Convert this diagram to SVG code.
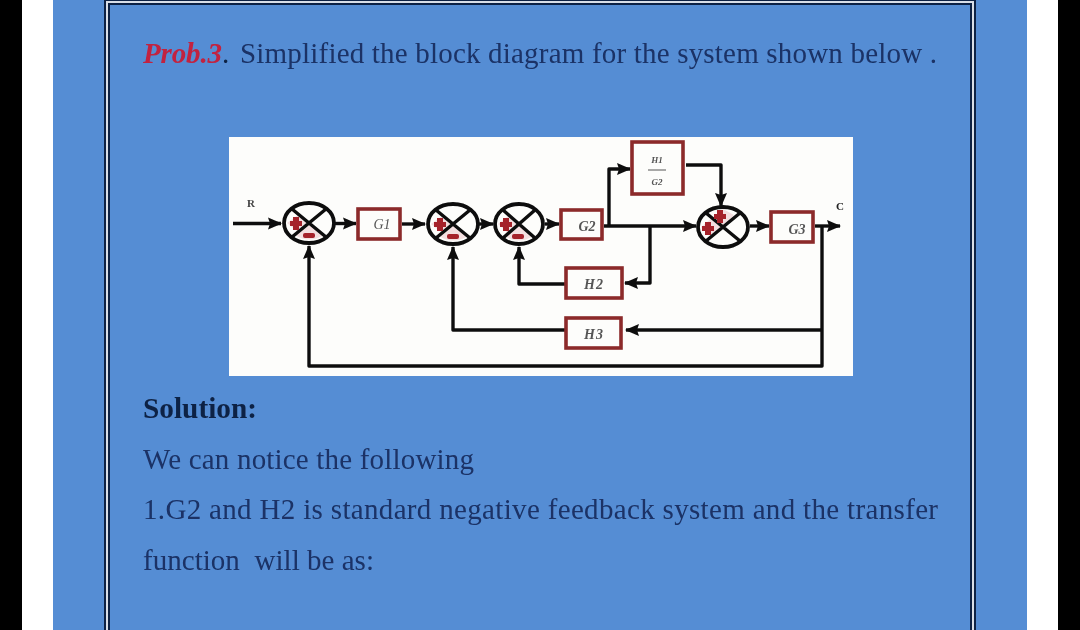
<svg xmlns="http://www.w3.org/2000/svg" width="1080" height="630" viewBox="0 0 1080 630">
<defs>
<marker id="a" markerUnits="userSpaceOnUse" markerWidth="15" markerHeight="14" refX="13" refY="7" orient="auto"><path d="M0 1L14 7L0 13L2 7Z" fill="#0c0c0c"/></marker>
<filter id="b" x="-5%" y="-5%" width="110%" height="110%"><feGaussianBlur stdDeviation="0.7"/></filter>
</defs>
<style>
.t{font-family:"Liberation Serif",serif;font-size:29px;fill:#1a3266}
.b{fill:#fdfdfb;stroke:#8c2a2c;stroke-width:3.6}
.c{fill:none;stroke:#0c0c0c;stroke-width:3.4;stroke-linejoin:round}
.s{fill:#fdfdfb;stroke:#0c0c0c;stroke-width:3.8}
.x{stroke:#0c0c0c;stroke-width:3.4}
.l{font-family:"Liberation Serif",serif;font-style:italic;fill:#555;text-anchor:middle}
.m{fill:#a5222c}
.p{fill:#f3dfe0}
</style>
<g filter="url(#b)">
<rect width="1080" height="630" fill="#000"/>
<rect x="22" width="1036" height="630" fill="#fff"/>
<rect x="53" width="974" height="630" fill="#558dd4"/>
<path d="M107 630V2H973V630" fill="none" stroke="#0f2345" stroke-width="6"/>
<path d="M107 630V2H973V630" fill="none" stroke="#d9dfe8" stroke-width="2"/>
<rect x="229" y="137" width="624" height="239" fill="#fdfdfb"/>
</g>
<g id="heading" filter="url(#b)">
<text x="143" y="63" class="t" style="fill:#c2223f;font-weight:bold;font-style:italic" textLength="79">Prob.3</text>
<text x="222" y="63" class="t" style="fill:#0f2345">.</text>
<text x="240" y="63" class="t" textLength="697">Simplified the block diagram for the system shown below .</text>
<text x="143" y="418" class="t" style="font-weight:bold;fill:#0f2345" textLength="114" lengthAdjust="spacingAndGlyphs">Solution:</text>
<text x="143" y="469" class="t" textLength="331">We can notice the following</text>
<text x="143" y="519" class="t" textLength="795">1.G2 and H2 is standard negative feedback system and the transfer</text>
<text x="143" y="570" class="t" textLength="231" xml:space="preserve">function  will be as:</text>
</g>
<g id="connectors" filter="url(#b)">
<path class="c" d="M233 223.500H281" marker-end="url(#a)"/>
<path class="c" d="M335 223.500H356" marker-end="url(#a)"/>
<path class="c" d="M402 224H425" marker-end="url(#a)"/>
<path class="c" d="M479 224H493" marker-end="url(#a)"/>
<path class="c" d="M545 224H559" marker-end="url(#a)"/>
<path class="c" d="M604 226H696" marker-end="url(#a)"/>
<path class="c" d="M609 226V169H630" marker-end="url(#a)"/>
<path class="c" d="M686 165H721V206" marker-end="url(#a)"/>
<path class="c" d="M750 226H769" marker-end="url(#a)"/>
<path class="c" d="M815 226H840" marker-end="url(#a)"/>
<path class="c" d="M650 226V283H625" marker-end="url(#a)"/>
<path class="c" d="M565 284H519V247" marker-end="url(#a)"/>
<path class="c" d="M822 226V366H309V246" marker-end="url(#a)"/>
<path class="c" d="M822 330H626" marker-end="url(#a)"/>
<path class="c" d="M565 330H453V247" marker-end="url(#a)"/>
</g>
<g id="sum1" filter="url(#b)"><ellipse class="s" cx="309" cy="223" rx="25" ry="20"/><path class="p" d="M287 223L298 215L309 223L298 232ZM309 224L324 235Q309 244 295 235Z"/><path class="x" d="M292 209L326 237M326 209L292 237"/><path class="m" d="M290 221h3v-4h6v4h3v5h-3v4h-6v-4h-3z"/><rect class="m" x="303" y="233" width="12" height="5" rx="2"/></g>
<g id="sum2" filter="url(#b)"><ellipse class="s" cx="453" cy="224" rx="25" ry="20"/><path class="p" d="M431 224L442 216L453 224L442 233ZM453 225L468 236Q453 245 439 236Z"/><path class="x" d="M436 210L470 238M470 210L436 238"/><path class="m" d="M434 222h3v-4h6v4h3v5h-3v4h-6v-4h-3z"/><rect class="m" x="447" y="234" width="12" height="5" rx="2"/></g>
<g id="sum3" filter="url(#b)"><ellipse class="s" cx="519" cy="224" rx="24" ry="20"/><path class="p" d="M498 224L508 216L519 224L508 233ZM519 225L533 236Q519 245 505 236Z"/><path class="x" d="M503 210L535 238M535 210L503 238"/><path class="m" d="M500 222h3v-4h6v4h3v5h-3v4h-6v-4h-3z"/><rect class="m" x="512" y="234" width="12" height="5" rx="2"/></g>
<g id="sum4" filter="url(#b)"><ellipse class="s" cx="723" cy="227" rx="25" ry="20"/><path class="p" d="M723 227L712 218L723 209L734 215ZM723 227L712 236L701 227L712 218Z"/><path class="x" d="M706 213L740 241M740 213L706 241"/><path class="m" d="M714 214h3v-4h6v4h3v5h-3v4h-6v-4h-3z"/><path class="m" d="M702 226h3v-4h6v4h3v5h-3v4h-6v-4h-3z"/></g>
<g id="G1" filter="url(#b)"><rect class="b" x="358" y="209" width="42" height="30"/><text class="l" x="382" y="229" font-size="14">G1</text></g>
<g id="G2" filter="url(#b)"><rect class="b" x="561" y="210" width="41" height="29"/><text class="l" x="587" y="231" font-size="14" font-weight="bold">G2</text></g>
<g id="H1G2" filter="url(#b)"><rect class="b" x="632" y="142" width="51" height="52"/><text class="l" x="657" y="163" font-size="9" font-weight="bold">H1</text><path d="M648 170H666" stroke="#555" stroke-width="1"/><text class="l" x="657" y="185" font-size="9" font-weight="bold">G2</text></g>
<g id="G3" filter="url(#b)"><rect class="b" x="771" y="212" width="42" height="30"/><text class="l" x="797" y="234" font-size="14" font-weight="bold">G3</text></g>
<g id="H2" filter="url(#b)"><rect class="b" x="566" y="268" width="56" height="30"/><text class="l" x="594" y="289" font-size="14" font-weight="bold" letter-spacing="1">H2</text></g>
<g id="H3" filter="url(#b)"><rect class="b" x="566" y="318" width="55" height="30"/><text class="l" x="594" y="339" font-size="14" font-weight="bold" letter-spacing="1">H3</text></g>
<g id="labels" filter="url(#b)"><text x="247" y="207" font-family="Liberation Serif,serif" font-weight="bold" font-size="11" fill="#444">R</text><text x="836" y="210" font-family="Liberation Serif,serif" font-weight="bold" font-size="11" fill="#222">C</text></g>
</svg>
